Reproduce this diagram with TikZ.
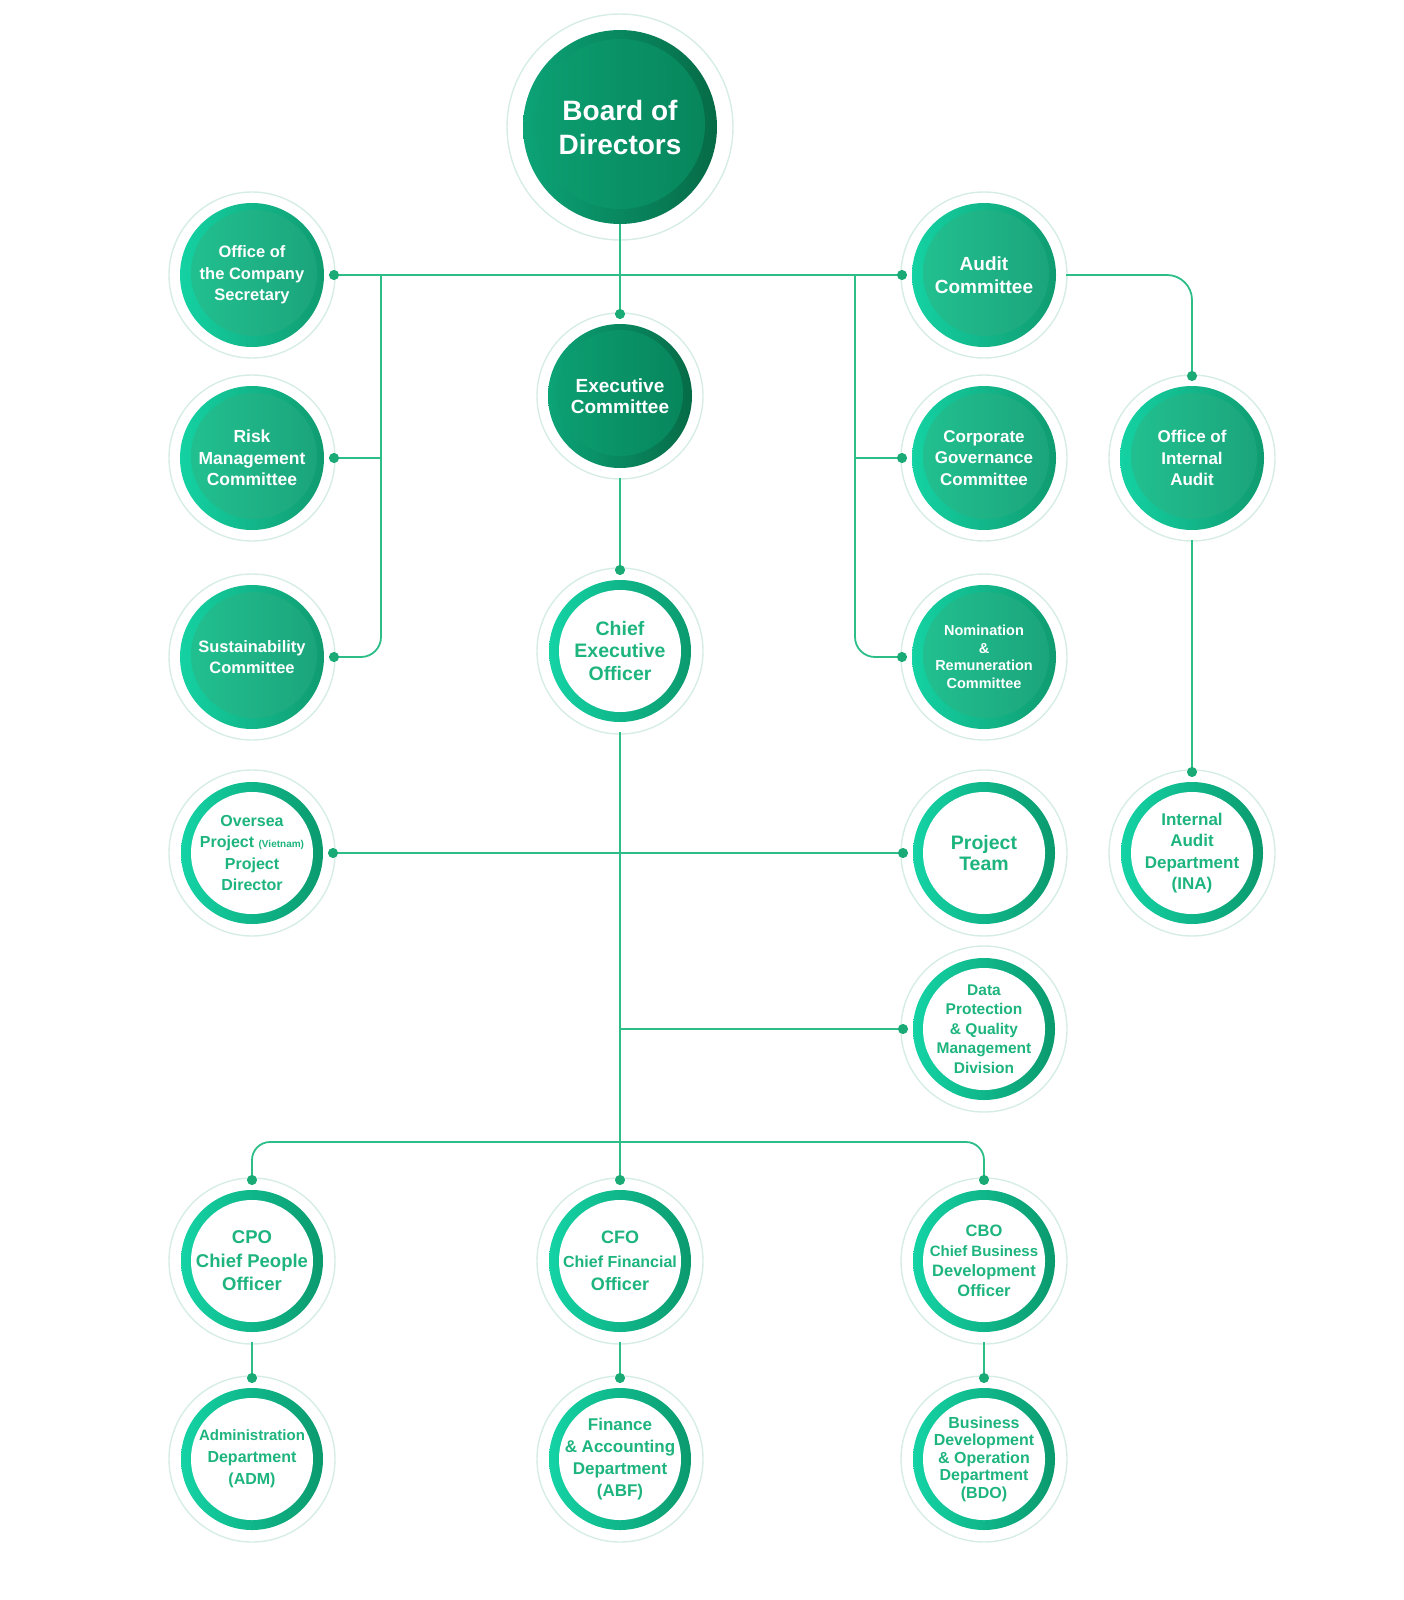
\documentclass[tikz,border=0pt]{standalone}
\usepackage{fontspec}
\setmainfont{Liberation Sans}
\usepackage{xcolor}
\usetikzlibrary{arrows.meta, backgrounds, calc}

\definecolor{linegreen}{HTML}{2DBE88}
\definecolor{dotgreen}{HTML}{1AAA75}
\definecolor{txtgreen}{HTML}{1DB47E}
\definecolor{ringA}{HTML}{14D3A5}
\definecolor{ringB}{HTML}{0B9A6E}
\definecolor{midA}{HTML}{14D2A3}
\definecolor{midB}{HTML}{109B70}
\definecolor{midinA}{HTML}{22C291}
\definecolor{midinB}{HTML}{1BA37A}
\definecolor{darkA}{HTML}{0CA477}
\definecolor{darkB}{HTML}{066B47}
\definecolor{darkinA}{HTML}{0CA072}
\definecolor{darkinB}{HTML}{07845A}
\definecolor{halocol}{HTML}{D6EDE4}

\newcommand{\fs}[2]{\fontsize{#1}{#2}\selectfont\bfseries}

\begin{document}
\begin{tikzpicture}[
    x=1pt, y=-1pt,
    every node/.style={align=center, font=\fs{16.5}{21.4}},
    darkcirc/.style={circle, inner sep=0pt, outer sep=10pt, text=white,
                  left color=darkA, right color=darkB,
                  path picture={\shade[left color=darkinA, right color=darkinB]
                  ($(path picture bounding box.center)+(0pt,3pt)$) circle (#1);}},
    midcirc/.style={circle, inner sep=0pt, outer sep=10pt, minimum size=144pt, text=white,
                  left color=midA, right color=midB,
                  path picture={\shade[left color=midinA, right color=midinB]
                  ($(path picture bounding box.center)+(2pt,2pt)$) circle (63pt);}},
    ringcirc/.style={circle, inner sep=0pt, outer sep=10pt, minimum size=142pt, text=txtgreen,
                  left color=ringA, right color=ringB,
                  path picture={\fill[white] (path picture bounding box.center) circle (61pt);}},
    halo/.style={draw=halocol, line width=1.4pt},
    arr/.style={-{Circle[length=10pt, color=dotgreen]}, shorten >=-5pt,
                line width=1.8pt, draw=linegreen},
    link/.style={{Circle[length=10pt, color=dotgreen]}-{Circle[length=10pt, color=dotgreen]},
                shorten <=-5pt, shorten >=-5pt, line width=1.8pt, draw=linegreen},
]

\useasboundingbox (0,0) rectangle (1404,1600);

% board and committees
\node[darkcirc=85pt, minimum size=194pt, outer sep=0pt, font=\fs{28}{34}] (board) at (620,127) {Board of\\Directors};

\node[midcirc] (sec) at (252,275) {Office of\\the Company\\Secretary};
\node[midcirc, font=\fs{17.5}{21.4}] (risk) at (252,458) {Risk\\Management\\Committee};
\node[midcirc] (sust) at (252,657) {Sustainability\\Committee};

\node[darkcirc=63pt, minimum size=144pt, font=\fs{19}{21.5}] (exec) at (620,396) {Executive\\Committee};

\node[midcirc, font=\fs{19}{23.5}] (audit) at (984,275) {Audit\\Committee};
\node[midcirc, font=\fs{17}{21.4}] (cgc) at (984,458) {Corporate\\Governance\\Committee};
\node[midcirc, font=\fs{14.5}{17.5}] (nom) at (984,657) {Nomination\\\&\\Remuneration\\Committee};
\node[midcirc, font=\fs{17}{21.4}] (oia) at (1192,458) {Office of\\Internal\\Audit};

% management
\node[ringcirc, font=\fs{19.5}{22.5}] (ceo) at (620,651) {Chief\\Executive\\Officer};
\node[ringcirc, font=\fs{16}{21.4}] (ovs) at (252,853) {Oversea\\Project {\fs{10}{10}(Vietnam)}\\Project\\Director};
\node[ringcirc, font=\fs{19.5}{21.4}] (pteam) at (984,853) {Project\\Team};
\node[ringcirc, font=\fs{17}{21.4}] (ina) at (1192,853) {Internal\\Audit\\Department\\(INA)};
\node[ringcirc, font=\fs{15.5}{19.4}] (dpq) at (984,1029) {Data\\Protection\\\& Quality\\Management\\Division};

\node[ringcirc, font=\fs{18.5}{23.5}] (cpo) at (252,1261) {CPO\\Chief People\\Officer};
\node[ringcirc, font=\fs{18}{23.5}] (cfo) at (620,1261) {CFO\\{\fs{16}{23.5}Chief Financial}\\Officer};
\node[ringcirc, font=\fs{16.5}{20}] (cbo) at (984,1261) {CBO\\{\fs{15}{20}Chief Business}\\Development\\Officer};

\node[ringcirc, font=\fs{16}{22}] (adm) at (252,1459) {{\fs{15}{22}Administration}\\Department\\(ADM)};
\node[ringcirc, font=\fs{17}{22}] (abf) at (620,1459) {Finance\\\& Accounting\\Department\\(ABF)};
\node[ringcirc, font=\fs{16}{17.5}] (bdo) at (984,1459) {Business\\Development\\\& Operation\\Department\\(BDO)};

\coordinate (lsplit) at (381,275);
\coordinate (rsplit) at (855,275);
\coordinate (bus) at (620,1142);

% connectors
\draw[arr] (board) -- (exec);
\draw[link] (sec.east) -- (audit.west);
\draw[arr, rounded corners=20pt] (lsplit) |- (sust.east);
\draw[arr] (lsplit |- risk.east) -- (risk.east);
\draw[arr, rounded corners=20pt] (rsplit) |- (nom.west);
\draw[arr] (rsplit |- cgc.west) -- (cgc.west);
\draw[arr, rounded corners=25pt] (audit.east) -| (oia.north);
\draw[arr] (oia) -- (ina);
\draw[arr] (exec) -- (ceo);
\draw[arr] (ceo) -- (cfo);
\draw[link] (ovs.east) -- (pteam.west);
\draw[arr] (ceo.south |- dpq.west) -- (dpq.west);
\draw[arr, rounded corners=18pt] (bus) -| (cpo.north);
\draw[arr, rounded corners=18pt] (bus) -| (cbo.north);
\draw[arr] (cpo) -- (adm);
\draw[arr] (cfo) -- (abf);
\draw[arr] (cbo) -- (bdo);

\begin{scope}[on background layer]
    \draw[halo] (board.center) circle (113pt);
    \foreach \n in {sec,risk,sust,exec,audit,cgc,nom,oia,ceo,ovs,pteam,ina,dpq,cpo,cfo,cbo,adm,abf,bdo}
        \draw[halo] (\n.center) circle (83pt);
\end{scope}

\end{tikzpicture}
\end{document}
